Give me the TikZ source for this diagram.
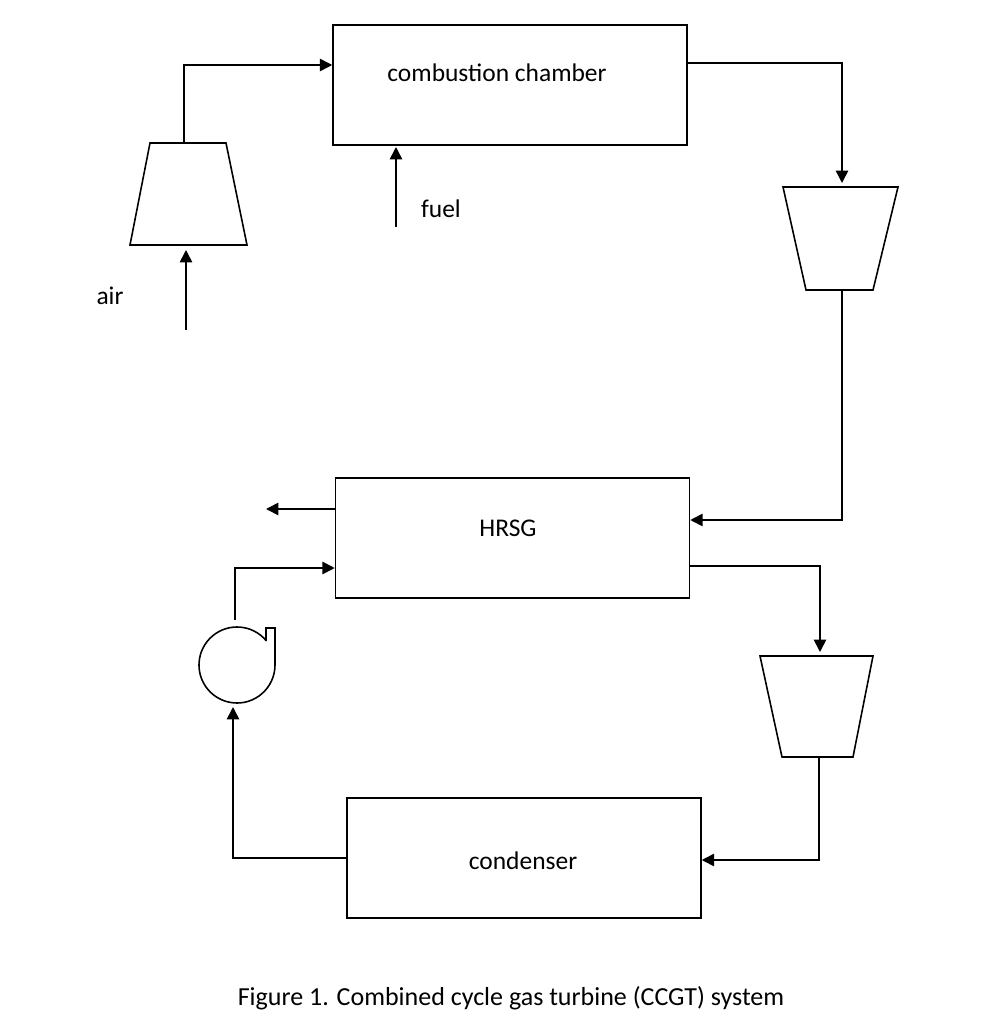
\documentclass[tikz,border=0pt]{standalone}
\usepackage{fontspec}
\setmainfont{Carlito}
\usetikzlibrary{arrows.meta}
\begin{document}
\begin{tikzpicture}[x=0.02cm, y=-0.02cm, line width=0.9pt, >={Triangle[length=7pt,width=7pt]},
  unit/.style={draw, rectangle, minimum width=7.08cm, minimum height=2.4cm, inner sep=0pt},
  lbl/.style={font=\fontsize{14.5}{17}\selectfont}]
\useasboundingbox (0,0) rectangle (992,1024);
% Equipos
\node [unit] (CC)   at (510,85)  {};
\node [lbl] at (497,73) {combustion chamber};
\node [unit] (HRSG) at (512.5,538) {};
\node [lbl] at (508,528) {HRSG};
\node [unit] (COND) at (524,858) {};
\node [lbl] at (523,861) {condenser};
% Compresor y turbinas
\draw (150,143) -- (226,143) -- (247,245) -- (130,245) -- cycle;
\draw (783,187) -- (898,187) -- (873,290) -- (806,290) -- cycle;
\draw (760,656) -- (873,656) -- (853,757) -- (782,757) -- cycle;
% Bomba
\draw (237,665) ++(-40:38) arc (-40:-360:38) -- (275,628) -- (266,628) -- (266,641);
% Textos
\node [lbl] at (110,296) {air};
\node [lbl] at (441,209) {fuel};
\node [font=\fontsize{14.8}{18}\selectfont] at (511,998) {Figure 1. Combined cycle gas turbine (CCGT) system};
% Conexiones
\coordinate (airin) at (186,330);
\coordinate (fuelin) at (396,227);
\coordinate (exh) at (266,509);
\draw [->] (airin) -- (186,250);
\draw [->] (184,143) |- (CC.west |- 0,65);
\draw [->] (fuelin) -- (396,147);
\draw [->] (CC.east |- 0,63) -| (842,183);
\draw [->] (842,290) |- (HRSG.east |- 0,520);
\draw [->] (HRSG.west |- 0,509) -- (exh);
\draw [->] (HRSG.east |- 0,566) -| (820,652);
\draw [->] (819,757) |- (COND.east |- 0,860);
\draw [->] (COND.west |- 0,858) -| (233,707);
\draw [->] (235,620) |- (HRSG.west |- 0,568);
\end{tikzpicture}
\end{document}
